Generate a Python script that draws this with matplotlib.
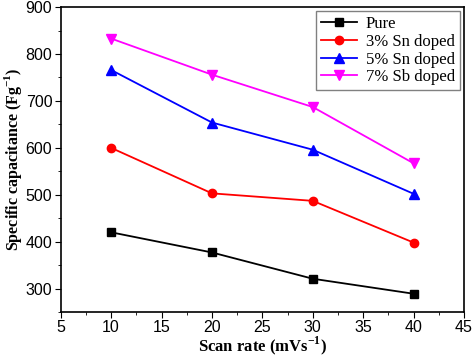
import matplotlib
matplotlib.use("Agg")
import matplotlib.pyplot as plt
from matplotlib.ticker import MultipleLocator

plt.rcParams["mathtext.fontset"] = "custom"
plt.rcParams["mathtext.rm"] = "Liberation Serif"
plt.rcParams["mathtext.bf"] = "Liberation Serif:bold"

# data
scan_rate = [10, 20, 30, 40]
pure = [420, 377, 321, 289]
sn3 = [600, 503, 487, 398]
sn5 = [766, 654, 596, 502]
sb7 = [833, 756, 687, 567]

fig = plt.figure(figsize=(4.74, 3.55), dpi=100)
ax = fig.add_axes([0.128, 0.121, 0.851, 0.859])

ax.plot(scan_rate, pure, color="black", marker="s", ms=6, lw=1.3, label="Pure")
ax.plot(scan_rate, sn3, color="red", marker="o", ms=6, lw=1.3, label="3% Sn doped")
ax.plot(scan_rate, sn5, color="blue", marker="^", ms=6.5, lw=1.3, label="5% Sn doped")
ax.plot(scan_rate, sb7, color="magenta", marker="v", ms=6.5, lw=1.3, label="7% Sb doped")

ax.set_xlim(5, 45)
ax.set_ylim(250, 900)
ax.xaxis.set_major_locator(MultipleLocator(5))
ax.xaxis.set_minor_locator(MultipleLocator(2.5))
ax.yaxis.set_major_locator(MultipleLocator(100))
ax.yaxis.set_minor_locator(MultipleLocator(50))
ax.tick_params(which="both", direction="out", top=False, right=False)
ax.tick_params(which="major", length=4, labelsize=11.5, pad=2)
ax.tick_params(which="minor", length=2)
for lab in ax.get_xticklabels() + ax.get_yticklabels():
    lab.set_family("Liberation Sans")
for s in ax.spines.values():
    s.set_linewidth(1.2)

ax.set_xlabel("Scan rate (mVs$^{\\mathbf{-1}}$)", family="Liberation Serif",
              fontweight="bold", fontsize=12, labelpad=-1)
ax.set_ylabel("Specific capacitance (Fg$^{\\mathbf{-1}}$)", family="Liberation Serif",
              fontweight="bold", fontsize=11.5, labelpad=1)

leg = ax.legend(loc="upper right", prop={"family": "Liberation Serif", "size": 12},
                fancybox=False, edgecolor="gray", framealpha=1,
                borderaxespad=0.25, handlelength=2.2, labelspacing=0.1,
                borderpad=0.3, handletextpad=0.5)
leg.get_frame().set_linewidth(1.0)

fig.savefig("out.png", dpi=100)
